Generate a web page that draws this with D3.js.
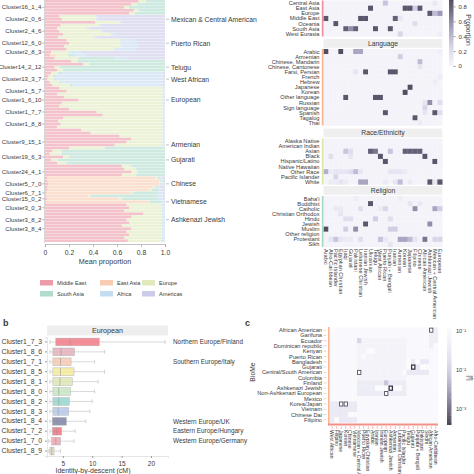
<!DOCTYPE html>
<html>
<head>
<meta charset="utf-8">
<script src="https://cdn.jsdelivr.net/npm/d3@7"></script>
<style>
body { margin: 0; background: #fff; }
svg { display: block; font-family: "Liberation Sans", Arial, sans-serif; }
text { fill: #3a3a3a; }
</style>
</head>
<body>
<svg width="474" height="474"></svg>
<script>
// ---------- panel a : admixture proportions ----------
var ancestries = ["Middle East", "East Asia", "Europe", "South Asia", "Africa", "Americas"];
var ancestryColors = ["#ec9ca9", "#f8cbb2", "#e0eabd", "#b0dccb", "#c3dcef", "#cccbe8"];
var legendOrder = ["Middle East", "East Asia", "Europe", "South Asia", "Africa", "Americas"];

// one row per individual bar: ME, EA, EU, SA, AF, AM
var proportions = [
  [0.78,0,0.06,0.16,0,0],[0.72,0,0.05,0.23,0,0],[0.66,0,0.04,0.30,0,0],[0.74,0,0.04,0.22,0,0],[0.70,0,0.05,0.25,0,0],
  [0.12,0,0.30,0,0.02,0.56],[0.14,0,0.28,0,0.02,0.56],[0.42,0,0.20,0,0.02,0.36],[0.13,0,0.32,0,0.02,0.53],
  [0.10,0,0.25,0,0.02,0.63],[0.12,0,0.35,0,0.03,0.50],[0.15,0,0.40,0,0.03,0.42],[0.11,0,0.30,0,0.02,0.57],
  [0.18,0,0.45,0,0.12,0.25],[0.20,0,0.42,0,0.15,0.23],[0.16,0,0.48,0,0.14,0.22],[0.18,0,0.40,0,0.18,0.24],
  [0.05,0,0.15,0,0.10,0.70],[0.04,0.05,0.10,0.05,0.10,0.66],[0.08,0,0.20,0.30,0.10,0.32],
  [0.22,0,0.05,0.73,0,0],[0.32,0,0.05,0.63,0,0],[0.08,0,0.04,0.88,0,0],[0.10,0,0.05,0.85,0,0],
  [0.05,0,0.06,0.03,0.84,0.02],[0.03,0,0.04,0.02,0.89,0.02],[0.02,0,0.05,0.02,0.89,0.02],[0.04,0,0.08,0.02,0.84,0.02],[0.06,0,0.15,0.02,0.75,0.02],
  [0.12,0,0.86,0,0.02,0],[0.18,0,0.80,0,0.02,0],[0.10,0,0.88,0,0.02,0],[0.16,0,0.82,0,0.02,0],
  [0.28,0,0.70,0,0.02,0],[0.14,0,0.84,0,0.02,0],[0.12,0,0.86,0,0.02,0],[0.20,0,0.78,0,0.02,0],
  [0.43,0,0.55,0,0.02,0],[0.48,0,0.50,0,0.02,0],[0.15,0,0.83,0,0.02,0],[0.11,0,0.87,0,0.02,0],
  [0.13,0,0.85,0,0.02,0],[0.10,0,0.88,0,0.02,0],[0.30,0,0.68,0,0.02,0],[0.38,0,0.60,0,0.02,0],
  [0.62,0,0.36,0,0.02,0],[0.72,0,0.26,0,0.02,0],[0.68,0,0.30,0,0.02,0],[0.58,0,0.40,0,0.02,0],[0.20,0,0.30,0.50,0,0],
  [0.06,0,0.08,0.86,0,0],[0.04,0,0.10,0.86,0,0],[0.15,0,0.05,0.80,0,0],[0.05,0,0.06,0.89,0,0],[0.10,0,0.08,0.82,0,0],
  [0.64,0,0.08,0.28,0,0],[0.66,0,0.10,0.24,0,0],[0.72,0,0.05,0.23,0,0],[0.64,0,0.12,0.24,0,0],
  [0.02,0.90,0.02,0.02,0.02,0.02],[0.02,0.93,0.01,0.01,0.01,0.02],[0.03,0.92,0.01,0.01,0.01,0.02],[0.02,0.88,0.02,0.02,0.02,0.04],[0.02,0.85,0.02,0.05,0.02,0.04],
  [0.01,0.70,0.02,0.22,0.03,0.02],[0.01,0.35,0.02,0.55,0.05,0.02],[0.02,0.60,0.02,0.30,0.04,0.02],[0.01,0.85,0.01,0.10,0.02,0.01],
  [0.68,0,0.29,0,0.03,0],[0.70,0,0.27,0,0.03,0],[0.66,0,0.31,0,0.03,0],[0.82,0,0.15,0,0.03,0],
  [0.72,0,0.25,0,0.03,0],[0.68,0,0.29,0,0.03,0],[0.70,0,0.27,0,0.03,0],[0.64,0,0.33,0,0.03,0],
  [0.72,0,0.25,0,0.03,0],[0.68,0,0.29,0,0.03,0],[0.70,0,0.27,0,0.03,0],[0.66,0,0.31,0,0.03,0],[0.69,0,0.28,0,0.03,0]
];
var clusterTicks = [[2,"Cluster16_1_4"],[6,"Cluster2_0_6"],[10,"Cluster2_4_6"],[14,"Cluster12_6_0"],[17,"Cluster2_8_3"],
  [22,"Cluster14_2_12"],[26,"Cluster13_3_7"],[30,"Cluster1_5_7"],[33,"Cluster1_6_10"],[37,"Cluster1_7_7"],
  [41,"Cluster1_8_8"],[47,"Cluster9_15_1"],[52,"Cluster19_6_3"],[57,"Cluster24_4_1"],[61,"Cluster5_7_0"],
  [64,"Cluster6_7_1"],[66,"Cluster15_0_2"],[69,"Cluster3_0_3"],[73,"Cluster3_8_2"],[76,"Cluster3_8_4"]];
var groupTicks = [[6,"Mexican & Central American"],[14,"Puerto Rican"],[22,"Telugu"],[26,"West African"],
  [33,"European"],[48,"Armenian"],[53,"Gujarati"],[61,"Chinese"],[67,"Vietnamese"],[73,"Ashkenazi Jewish"]];

// ---------- panel a (right) : metadata enrichment ----------
var heatCols = ["Arabic","Afro-Caribbean","Pacific Islander","Egyptian Christian","Iraqi","Gujarati","Pakistani",
  "Lebanese Christian","Iranian Jewish","Ukrainian","Telugu","West African","Puerto Rican","Punjabi + Bengali",
  "Iranian","Armenian","Korean","Japanese","Filipino","Chinese","African American","Ashkenazi Jewish",
  "Mexican + Central American","European"];
var regionRows = ["Central Asia","East Asia","Europe","Middle East","Oceania","South Asia","West Eurasia"];
var languageRows = ["Arabic","Armenian","Chinese, Mandarin","Chinese, Cantonese","Farsi, Persian","French","Hebrew",
  "Japanese","Korean","Other language","Russian","Sign language","Spanish","Tagalog","Thai"];
var raceRows = ["Alaska Native","American Indian","Asian","Black","Hispanic/Latino","Native Hawaiian","Other Race",
  "Pacific Islander","White"];
var religionRows = ["Baha'i","Buddhist","Catholic","Christian Orthodox","Hindu","Jewish","Muslim","Other religion",
  "Protestant","Sikh"];
var regionCells = [["Central Asia",12,0.35],["Central Asia",22,0.12],
  ["East Asia",9,0.85],["East Asia",16,0.85],["East Asia",17,0.85],["East Asia",18,0.3],["East Asia",19,0.85],
  ["Europe",21,0.85],["Europe",22,0.4],["Europe",23,0.55],
  ["Middle East",0,0.85],["Middle East",7,0.85],["Middle East",8,0.85],["Middle East",14,0.8],["Middle East",15,0.15],
  ["Oceania",2,0.85],["Oceania",18,0.2],
  ["South Asia",4,0.8],["South Asia",5,0.6],["South Asia",6,0.8],["South Asia",10,0.85],["South Asia",13,0.85],
  ["West Eurasia",15,0.25],["West Eurasia",23,0.08]];
var languageCells = [["Arabic",0,0.9],["Arabic",3,0.9],["Arabic",6,0.5],["Arabic",7,0.5],["Arabic",23,0.06],
  ["Armenian",15,0.3],["Chinese, Mandarin",19,0.4],["Chinese, Cantonese",19,0.15],
  ["Farsi, Persian",6,0.15],["Farsi, Persian",8,0.85],["Farsi, Persian",13,0.85],["Farsi, Persian",14,0.85],
  ["French",23,0.08],["Hebrew",22,0.08],["Japanese",17,0.9],["Korean",16,0.9],
  ["Other language",4,0.85],["Other language",10,0.85],["Other language",11,0.85],
  ["Russian",20,0.15],["Russian",21,0.6],["Russian",23,0.2],["Sign language",20,0.25],
  ["Spanish",12,0.85],["Spanish",20,0.15],["Spanish",22,0.85],["Spanish",23,0.2],
  ["Tagalog",18,0.85],["Thai",19,0.1]];
var raceCells = [["Asian",4,0.35],["Asian",5,0.2],["Asian",9,0.8],["Asian",10,0.7],["Asian",13,0.35],
  ["Asian",16,0.8],["Asian",17,0.8],["Asian",18,0.8],["Asian",19,0.8],
  ["Black",1,0.2],["Black",5,0.15],["Black",11,0.85],["Black",20,0.85],
  ["Hispanic/Latino",12,0.85],["Hispanic/Latino",22,0.85],
  ["Other Race",0,0.45],["Other Race",1,0.1],["Other Race",2,0.15],["Other Race",3,0.15],["Other Race",4,0.15],
  ["Other Race",5,0.2],["Other Race",6,0.4],["Other Race",7,0.15],["Other Race",13,0.15],["Other Race",14,0.15],
  ["Other Race",15,0.15],["Other Race",16,0.1],["Pacific Islander",2,0.25],
  ["White",1,0.1],["White",2,0.1],["White",3,0.15],["White",4,0.1],["White",7,0.5],["White",8,0.5],["White",12,0.1],
  ["White",14,0.15],["White",15,0.4],["White",17,0.1],["White",21,0.85],["White",22,0.15],["White",23,0.85]];
var religionCells = [["Baha'i",6,0.08],["Baha'i",15,0.08],["Buddhist",9,0.85],["Buddhist",17,0.15],["Buddhist",19,0.12],
  ["Catholic",2,0.12],["Catholic",3,0.12],["Catholic",7,0.2],["Catholic",11,0.1],["Catholic",12,0.25],
  ["Catholic",18,0.6],["Catholic",22,0.5],["Catholic",23,0.3],["Christian Orthodox",3,0.15],
  ["Hindu",4,0.2],["Hindu",5,0.2],["Hindu",10,0.3],["Hindu",13,0.2],["Jewish",8,0.85],["Jewish",21,0.6],
  ["Muslim",0,0.9],["Muslim",4,0.3],["Muslim",6,0.6],["Muslim",13,0.3],["Muslim",14,0.3],
  ["Protestant",1,0.15],["Protestant",2,0.35],["Protestant",3,0.15],["Protestant",4,0.1],["Protestant",5,0.1],
  ["Protestant",7,0.2],["Protestant",11,0.35],["Protestant",12,0.12],["Protestant",15,0.5],["Protestant",16,0.5],
  ["Protestant",17,0.4],["Protestant",18,0.15],["Protestant",20,0.7],["Protestant",22,0.25],["Protestant",23,0.25],
  ["Sikh",13,0.15]];
var heatBase = 0.03;
var propTicks = [0, 0.2, 0.4, 0.6, 0.8];

// ---------- panel b : IBD boxplots ----------
var ibdClusters = ["Cluster1_7_3","Cluster1_8_6","Cluster1_7_1","Cluster1_8_5","Cluster1_8_1","Cluster1_8_0",
  "Cluster1_8_2","Cluster1_8_3","Cluster1_8_4","Cluster1_7_2","Cluster1_7_0","Cluster1_8_9"];
// q1, median, q3, lower whisker, upper whisker (cM)
var ibdStats = [[3.8,6.2,11.2,2.8,22.4],[3.3,4.7,7.0,2.8,12.1],[3.3,4.6,6.4,2.8,10.4],[3.3,4.6,6.9,2.8,12.1],
  [3.3,4.5,6.6,2.8,11.0],[3.3,4.3,6.3,2.8,10.4],[3.3,4.3,6.1,2.8,10.0],[3.3,4.2,6.0,2.8,9.6],
  [3.2,4.0,5.6,2.8,8.9],[3.2,3.9,4.8,2.8,7.1],[3.1,3.8,4.6,2.6,6.9],[2.8,3.1,3.5,2.6,4.6]];
var ibdColors = ["#f07b86","#e3b0ba","#f6c9b2","#f3ea9a","#dce8b4","#c7e6c2","#97d6cf","#b5c8e6",
  "#7e84a6","#f2707e","#f0a4b2","#e8d9c2"];
var ibdRegions = [["Cluster1_7_3","Northern Europe/Finland"],["Cluster1_7_1","Southern Europe/Italy"],
  ["Cluster1_8_4","Western Europe/UK"],["Cluster1_7_2","Eastern Europe/Hungary"],["Cluster1_7_0","Western Europe/Germany"]];

// ---------- panel c : BioMe vs reference ----------
var biomeRows = ["African American","Garifuna","Ecuador","Dominican republic","Kenyan","Puerto Rican","Bangladesh",
  "Gujarati","Central/South American","Colombia","Finland","Ashkenazi Jewish","Non-Ashkenazi European","Mexico",
  "Korea/Japan","Vietnam","Chinese Dai","Filipino"];
var refCols = ["West African","Filipino","Japanese","Korean","Chinese","Vietnamese","Mexican + Central American",
  "Puerto Rican","Egyptian Christian","Arabic","Iranian","Iranian Jewish","European","Ashkenazi Jewish","Armenian",
  "Lebanese Christian","Pacific Islander","Telugu","Gujarati","Punjabi + Bengali","Pakistani","Sindhi",
  "African American","Afro-Caribbean"];
var cBase = 0.1;
// row from, row to, col from, col to, value
var cBlocks = [[14,17,0,5,0.03],[2,12,6,16,0.06],[10,12,6,16,0.035],[6,8,17,21,0.03],[0,3,22,23,0.04]];
// row, col, value, outlined
var cCells = [[0,0,0.3,0],[0,22,0.3,1],[2,6,0.012,0],[3,23,0.3,0],[4,8,0.3,0],[4,9,0.3,0],[5,7,0.3,0],
  [6,17,0.3,0],[6,19,0.3,0],[7,17,0.3,0],[7,18,0.3,2],[7,20,0.3,0],[7,21,0.3,0],[8,16,0.3,0],[8,6,0.3,1],
  [10,12,0.007,0],[11,10,0.3,0],[11,11,0.3,0],[11,12,0.3,0],[11,13,0.3,2],[11,14,0.3,0],[11,15,0.3,0],
  [12,12,0.3,1],[14,2,0.3,1],[14,3,0.3,1],[16,4,0.3,0],[16,5,0.3,0],[17,1,0.3,0]];
var cTicks = [[0.1,"10\u207B\u00B9"],[0.01,"10\u207B\u00B2"],[0.001,"10\u207B\u00B3"]];

var svg = d3.select("svg");

// ===== panel a, stacked bars =====
var xA = d3.scaleLinear().domain([0, 1]).range([45, 165]),
    yA = d3.scaleBand().domain(d3.range(proportions.length)).range([0, 242]).paddingInner(0.12);
var colorA = d3.scaleOrdinal().domain(ancestries).range(ancestryColors);

var rowsA = proportions.map(function (p, i) {
  var o = {row: i};
  ancestries.forEach(function (k, j) { o[k] = p[j]; });
  return o;
});
var stacked = d3.stack().keys(ancestries)(rowsA);

var gA = svg.append("g");
gA.selectAll(".layer")
  .data(stacked)
  .enter().append("g")
  .attr("fill", function (d) { return colorA(d.key); })
  .attr("fill-opacity", 0.62)
  .selectAll("rect")
  .data(function (d) { return d; })
  .enter().append("rect")
  .attr("x", function (d) { return xA(d[0]); })
  .attr("width", function (d) { return Math.max(0, Math.min(xA(d[1]), xA(1)) - xA(d[0])); })
  .attr("y", function (d) { return yA(d.data.row); })
  .attr("height", yA.bandwidth());

// left ticks with cluster names
gA.append("line").attr("x1", 44.5).attr("x2", 44.5).attr("y1", 0).attr("y2", 243).attr("stroke", "#bbb").attr("stroke-width", 0.6);
var ct = gA.selectAll(".ctick").data(clusterTicks).enter().append("g")
  .attr("transform", function (d) { return "translate(0," + (yA(d[0]) + yA.bandwidth() / 2) + ")"; });
ct.append("line").attr("x1", 42).attr("x2", 44.5).attr("stroke", "#999").attr("stroke-width", 0.6);
ct.append("text").attr("x", 41.5).attr("dy", "0.35em").attr("text-anchor", "end")
  .style("font-size", "6.1px").text(function (d) { return d[1]; });

// right ticks with community names
var gt = gA.selectAll(".gtick").data(groupTicks).enter().append("g")
  .attr("transform", function (d) { return "translate(0," + (yA(d[0]) + yA.bandwidth() / 2) + ")"; });
gt.append("line").attr("x1", 166).attr("x2", 169).attr("stroke", "#999").attr("stroke-width", 0.6);
gt.append("text").attr("x", 171).attr("dy", "0.35em")
  .style("font-size", "6.8px").text(function (d) { return d[1]; });

var axA = gA.append("g").attr("transform", "translate(0,244)")
  .call(d3.axisBottom(xA).tickValues([0, 0.2, 0.4, 0.6, 0.8, 1]).tickSize(3)
    .tickFormat(function (d) { return d === 0 ? "0" : d3.format(".1f")(d); }));
axA.selectAll("text").style("font-size", "6.8px").attr("fill", "#444");
axA.selectAll("line,path").attr("stroke", "#999").attr("stroke-width", 0.6);
gA.append("text").attr("x", 105).attr("y", 264).attr("text-anchor", "middle")
  .style("font-size", "7.2px").text("Mean proportion");

var leg = gA.selectAll(".leg").data(legendOrder).enter().append("g")
  .attr("transform", function (d, i) {
    return "translate(" + [40, 100, 142][i % 3] + "," + (280 + Math.floor(i / 3) * 11) + ")";
  });
leg.append("rect").attr("width", 13).attr("height", 5.5).attr("fill", function (d) { return colorA(d); });
leg.append("text").attr("x", 17).attr("y", 3).attr("dy", "0.35em").style("font-size", "5.6px").text(function (d) { return d; });

// ===== panel a, heatmap =====
var xH = d3.scaleBand().domain(d3.range(heatCols.length)).range([323.5, 442.3]);
var heatColor = d3.scaleSequential(d3.interpolateRgbBasis(["#f6f6fb", "#dcdbee", "#aaa7c6", "#6d6881", "#3f3a49"])).domain([0, 1]);
var sections = [
  {rows: regionRows, cells: regionCells, top: 0.5, bottom: 36.5, title: null, strip: "#ec8f9c"},
  {rows: languageRows, cells: languageCells, top: 49, bottom: 125.5, title: "Language", strip: "#f6b68f"},
  {rows: raceRows, cells: raceCells, top: 138.5, bottom: 184.5, title: "Race/Ethnicity", strip: "#d9e8a6"},
  {rows: religionRows, cells: religionCells, top: 196, bottom: 247, title: "Religion", strip: "#a4dcc3"}
];
var gH = svg.append("g");
sections.forEach(function (s) {
  var yH = d3.scaleBand().domain(s.rows).range([s.top, s.bottom]);
  var lookup = {};
  s.cells.forEach(function (c) { lookup[c[0] + "|" + c[1]] = c[2]; });
  var grid = [];
  s.rows.forEach(function (r) {
    heatCols.forEach(function (c, j) {
      var v = lookup[r + "|" + j];
      grid.push({row: r, col: j, value: v === undefined ? heatBase : v});
    });
  });
  var g = gH.append("g");
  g.selectAll("rect").data(grid).enter().append("rect")
    .attr("x", function (d) { return xH(d.col); })
    .attr("y", function (d) { return yH(d.row); })
    .attr("width", xH.bandwidth() + 0.2)
    .attr("height", yH.bandwidth() + 0.2)
    .attr("fill", function (d) { return heatColor(d.value); });
  g.append("rect").attr("x", 321.8).attr("width", 1.7).attr("y", s.top).attr("height", s.bottom - s.top).attr("fill", s.strip);
  g.selectAll("text.rl").data(s.rows).enter().append("text")
    .attr("x", 319.5).attr("y", function (d) { return yH(d) + yH.bandwidth() / 2; })
    .attr("dy", "0.35em").attr("text-anchor", "end").style("font-size", "5.7px").text(function (d) { return d; });
  if (s.title) {
    g.append("rect").attr("x", 323.5).attr("width", 118.8).attr("y", s.top - 10).attr("height", 8.8).attr("fill", "#efefef");
    g.append("text").attr("x", 383).attr("y", s.top - 5.6).attr("dy", "0.35em").attr("text-anchor", "middle")
      .style("font-size", "6.8px").text(s.title);
  }
});
gH.selectAll("text.cl").data(heatCols).enter().append("text")
  .attr("transform", function (d, i) { return "translate(" + (xH(i) + xH.bandwidth() / 2) + ",249) rotate(90)"; })
  .attr("dy", "0.35em").style("font-size", "5.6px").text(function (d) { return d; });

// proportion colour bar
var yP = d3.scaleLinear().domain([0, 1]).range([66, -8.5]);
var defs = svg.append("defs");
var gradP = defs.append("linearGradient").attr("id", "gradP").attr("x1", 0).attr("x2", 0).attr("y1", 1).attr("y2", 0);
d3.range(0, 1.01, 0.25).forEach(function (t) {
  gradP.append("stop").attr("offset", t).attr("stop-color", heatColor(t));
});
gH.append("rect").attr("x", 449).attr("width", 4.5).attr("y", yP(1)).attr("height", yP(0) - yP(1)).attr("fill", "url(#gradP)");
var axP = gH.append("g").attr("transform", "translate(453.5,0)")
  .call(d3.axisRight(yP).tickValues(propTicks).tickSize(2).tickFormat(function (d) { return d === 0 ? "0" : d3.format(".1f")(d); }));
axP.select(".domain").remove();
axP.selectAll("line").attr("stroke", "#999");
axP.selectAll("text").style("font-size", "6px").attr("fill", "#444");
gH.append("text").attr("transform", "translate(466,30) rotate(90)").attr("text-anchor", "middle")
  .style("font-size", "6.8px").text("Proportion");

// ===== panel b =====
var xB = d3.scaleLinear().domain([2.3, 22.9]).range([47, 168]),
    yB = d3.scaleBand().domain(ibdClusters).range([337, 456]);
var gB = svg.append("g");
gB.append("text").attr("x", 3).attr("y", 326).style("font-size", "9px").style("font-weight", "bold").attr("fill", "#111").text("b");
gB.append("rect").attr("x", 47).attr("y", 325.5).attr("width", 121).attr("height", 10).attr("fill", "#eeeeee");
gB.append("text").attr("x", 107.5).attr("y", 330.5).attr("dy", "0.35em").attr("text-anchor", "middle")
  .style("font-size", "7.2px").text("European");

var boxes = gB.selectAll(".box").data(ibdClusters).enter().append("g")
  .attr("transform", function (d) { return "translate(0," + (yB(d) + yB.bandwidth() / 2) + ")"; });
var bh = yB.bandwidth() * 0.78;
boxes.append("line")
  .attr("x1", function (d, i) { return xB(ibdStats[i][3]); })
  .attr("x2", function (d, i) { return xB(ibdStats[i][4]); })
  .attr("stroke", "#c8c8c8").attr("stroke-width", 0.7);
boxes.append("line")
  .attr("x1", function (d, i) { return xB(ibdStats[i][3]); })
  .attr("x2", function (d, i) { return xB(ibdStats[i][3]); })
  .attr("y1", -2).attr("y2", 2).attr("stroke", "#bbb").attr("stroke-width", 0.6);
boxes.append("line")
  .attr("x1", function (d, i) { return xB(ibdStats[i][4]); })
  .attr("x2", function (d, i) { return xB(ibdStats[i][4]); })
  .attr("y1", -2).attr("y2", 2).attr("stroke", "#bbb").attr("stroke-width", 0.6);
boxes.append("rect")
  .attr("x", function (d, i) { return xB(ibdStats[i][0]); })
  .attr("width", function (d, i) { return xB(ibdStats[i][2]) - xB(ibdStats[i][0]); })
  .attr("y", -bh / 2).attr("height", bh)
  .attr("fill", function (d, i) { return ibdColors[i]; }).attr("fill-opacity", 0.85)
  .attr("stroke", "#b5b5b5").attr("stroke-width", 0.5);
boxes.append("line")
  .attr("x1", function (d, i) { return xB(ibdStats[i][1]); })
  .attr("x2", function (d, i) { return xB(ibdStats[i][1]); })
  .attr("y1", -bh / 2).attr("y2", bh / 2).attr("stroke", "#999").attr("stroke-width", 0.6);

var axBL = gB.append("g").attr("transform", "translate(47,0)").call(d3.axisLeft(yB).tickSize(2));
axBL.select(".domain").attr("stroke", "#ccc").attr("stroke-width", 0.5);
axBL.selectAll("line").attr("stroke", "#999");
axBL.selectAll("text").style("font-size", "6.8px").attr("fill", "#3a3a3a");
var axBB = gB.append("g").attr("transform", "translate(0,456)").call(d3.axisBottom(xB).tickValues([5, 10, 15, 20]).tickSize(2));
axBB.select(".domain").attr("stroke", "#ccc").attr("stroke-width", 0.5);
axBB.selectAll("line").attr("stroke", "#999");
axBB.selectAll("text").style("font-size", "6.5px").attr("fill", "#444");
gB.append("text").attr("x", 93).attr("y", 473).attr("text-anchor", "middle").style("font-size", "7px")
  .text("Identity-by-descent (cM)");
gB.selectAll(".reg").data(ibdRegions).enter().append("text")
  .attr("x", 173).attr("y", function (d) { return yB(d[0]) + yB.bandwidth() / 2; })
  .attr("dy", "0.35em").style("font-size", "6.4px").text(function (d) { return d[1]; });

// ===== panel c =====
var xC = d3.scaleBand().domain(d3.range(refCols.length)).range([330, 438]),
    yC = d3.scaleBand().domain(d3.range(biomeRows.length)).range([327.5, 422.5]);
var colorC = d3.scaleSequentialLog(d3.interpolateRgbBasis(["#4a4456", "#8d89a3", "#cfcde3", "#ebebf5", "#fbfbfe"]))
  .domain([0.0004, 0.12]).clamp(true);
var gC = svg.append("g");
gC.append("text").attr("x", 245).attr("y", 326).style("font-size", "9px").style("font-weight", "bold").attr("fill", "#111").text("c");

var cLookup = {};
cCells.forEach(function (c) { cLookup[c[0] + "|" + c[1]] = c; });
var cGrid = [];
biomeRows.forEach(function (r, i) {
  refCols.forEach(function (c, j) {
    var v = cBase;
    cBlocks.forEach(function (b) { if (i >= b[0] && i <= b[1] && j >= b[2] && j <= b[3]) v = b[4]; });
    var cell = cLookup[i + "|" + j];
    cGrid.push({row: i, col: j, value: cell ? cell[2] : v, outline: cell ? cell[3] : 0});
  });
});
gC.selectAll("rect.cell").data(cGrid).enter().append("rect")
  .attr("x", function (d) { return xC(d.col); })
  .attr("y", function (d) { return yC(d.row); })
  .attr("width", xC.bandwidth() + 0.2).attr("height", yC.bandwidth() + 0.2)
  .attr("fill", function (d) { return colorC(d.value); });
gC.selectAll("rect.out").data(cGrid.filter(function (d) { return d.outline > 0; })).enter().append("rect")
  .attr("x", function (d) { return xC(d.col) + 0.6; })
  .attr("y", function (d) { return yC(d.row) + 0.6; })
  .attr("width", xC.bandwidth() - 1.2).attr("height", yC.bandwidth() - 1.2)
  .attr("fill", "#fff").attr("stroke", "#3d3848")
  .attr("stroke-width", function (d) { return d.outline > 1 ? 1.3 : 0.8; });
gC.append("rect").attr("x", 328).attr("y", 327).attr("width", 1.6).attr("height", 98).attr("fill", "#f6b797");
gC.append("rect").attr("x", 328).attr("y", 423.5).attr("width", 110).attr("height", 2).attr("fill", "#f09088");

gC.selectAll("text.rl").data(biomeRows).enter().append("text")
  .attr("x", 322).attr("y", function (d, i) { return yC(i) + yC.bandwidth() / 2; })
  .attr("dy", "0.35em").attr("text-anchor", "end").style("font-size", "5.7px").text(function (d) { return d; });
gC.selectAll("line.rt").data(biomeRows).enter().append("line")
  .attr("x1", 323.5).attr("x2", 326.5)
  .attr("y1", function (d, i) { return yC(i) + yC.bandwidth() / 2; })
  .attr("y2", function (d, i) { return yC(i) + yC.bandwidth() / 2; })
  .attr("stroke", "#f3b08e").attr("stroke-width", 0.6);
gC.selectAll("line.ctk").data(refCols).enter().append("line")
  .attr("x1", function (d, i) { return xC(i) + xC.bandwidth() / 2; })
  .attr("x2", function (d, i) { return xC(i) + xC.bandwidth() / 2; })
  .attr("y1", 426).attr("y2", 429).attr("stroke", "#f09088").attr("stroke-width", 0.6);
gC.selectAll("text.cl").data(refCols).enter().append("text")
  .attr("transform", function (d, i) { return "translate(" + (xC(i) + xC.bandwidth() / 2) + ",430) rotate(90)"; })
  .attr("dy", "0.35em").style("font-size", "5.1px").text(function (d) { return d; });
gC.append("text").attr("transform", "translate(255,372) rotate(-90)").attr("text-anchor", "middle")
  .style("font-size", "6.8px").text("BioMe");

// colour bar for panel c
var yCB = d3.scaleLog().domain([0.0004, 0.12]).range([425, 328]);
var gradC = defs.append("linearGradient").attr("id", "gradC").attr("x1", 0).attr("x2", 0).attr("y1", 1).attr("y2", 0);
d3.range(0, 1.01, 0.1).forEach(function (t) {
  gradC.append("stop").attr("offset", t).attr("stop-color", colorC(yCB.invert(425 - t * 97)));
});
gC.append("rect").attr("x", 447).attr("width", 4.5).attr("y", 328).attr("height", 97).attr("fill", "url(#gradC)");
var minor = [];
[0.001, 0.01].forEach(function (b) { d3.range(2, 10).forEach(function (k) { minor.push(b * k); }); });
gC.selectAll("line.mn").data(minor.concat([0.0005, 0.0006, 0.0007, 0.0008, 0.0009, 0.1])).enter().append("line")
  .attr("x1", 450.5).attr("x2", 451.5)
  .attr("y1", function (d) { return yCB(d); }).attr("y2", function (d) { return yCB(d); })
  .attr("stroke", "#fff").attr("stroke-width", 0.5);
gC.selectAll("text.cb").data(cTicks).enter().append("text")
  .attr("x", 456).attr("y", function (d) { return yCB(d[0]); }).attr("dy", "0.35em")
  .style("font-size", "5.6px").attr("fill", "#444").text(function (d) { return d[1]; });
gC.append("text").attr("transform", "translate(468,378) rotate(90)").attr("text-anchor", "middle")
  .style("font-size", "7px").text("|f|");
</script>
</body>
</html>
